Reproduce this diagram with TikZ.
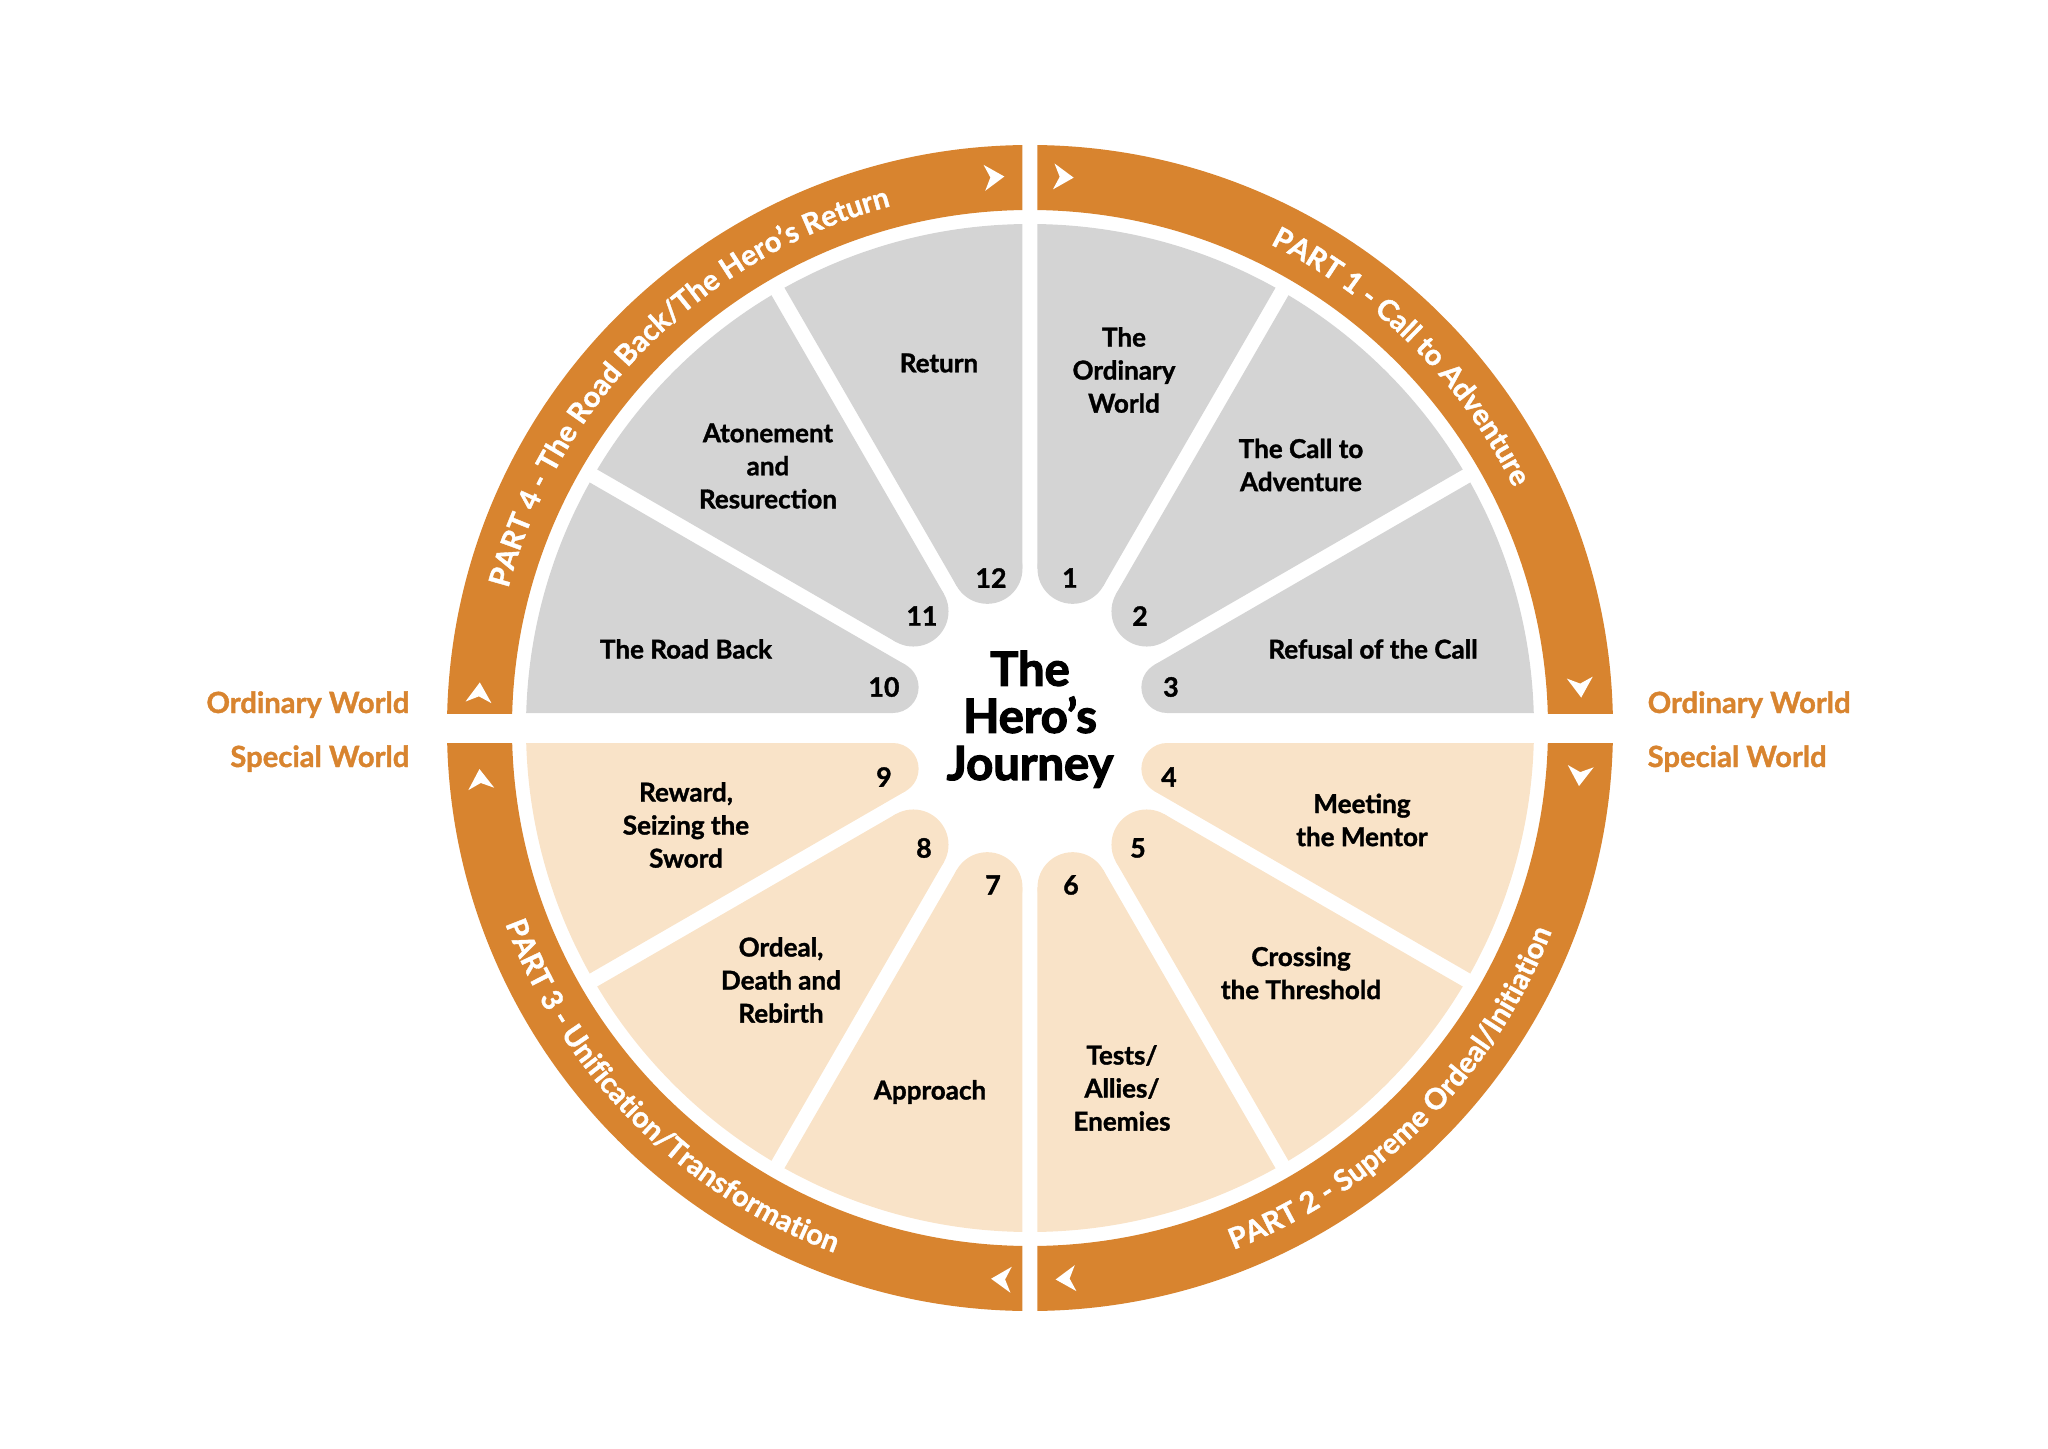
\documentclass[tikz,border=0pt]{standalone}
\usepackage{fontspec}
\setmainfont{Lato}[BoldFeatures={FakeBold=1.3}]
\newfontfamily\titlefont{Lato}[BoldFeatures={FakeBold=2.6}]
\usepackage{tikz}
\usetikzlibrary{decorations.text}
\definecolor{bandorange}{HTML}{D8842F}
\definecolor{oldgray}{HTML}{D4D4D4}
\definecolor{newbeige}{HTML}{F9E3C8}

\begin{document}
\begin{tikzpicture}[x=0.01cm,y=0.01cm,
  stage/.style={font=\bfseries\fontsize{7.4}{9.4}\selectfont,align=center,inner sep=0},
  num/.style={font=\bfseries\fontsize{7.6}{9}\selectfont,inner sep=0},
  world/.style={font=\bfseries\fontsize{8.3}{10}\selectfont,text=bandorange,inner sep=0},
  turnarrow/.pic={\fill[white] (10,0) -- (-10,13) -- (-4,0) -- (-10,-13) -- cycle;},
  parttext/.style={decorate,decoration={text along path,text align=center,text color=white,
    text={|\bfseries\fontsize{8.25}{10}\selectfont|#1}}}]
\useasboundingbox (-1030,-720) rectangle (1018,728);

% orange ring, one quarter at a time
\foreach \sx/\sy in {1/1,1/-1,-1/-1,-1/1} {
  \begin{scope}
    \clip (7.5*\sx,15*\sy) rectangle (700*\sx,700*\sy);
    \fill[bandorange,even odd rule] (0,0) circle[radius=583] circle[radius=518];
  \end{scope}
}

% the twelve stages: start angle / half gaps / cap distance / colour
\foreach \sa/\ga/\gb/\sd/\tone in {0/15/7.5/143/oldgray,30/7.5/7.5/165/oldgray,
    60/7.5/7.5/165/oldgray,90/7.5/7.5/165/oldgray,120/7.5/7.5/165/oldgray,
    150/7.5/15/143/oldgray,180/15/7.5/143/newbeige,210/7.5/7.5/165/newbeige,
    240/7.5/7.5/165/newbeige,270/7.5/7.5/165/newbeige,300/7.5/7.5/165/newbeige,
    330/7.5/15/143/newbeige} {
  \pgfmathsetmacro\cw{(\ga-\gb)/1.9319}
  \pgfmathsetmacro\cr{\sd*0.2588-(\ga+\gb)/2}
  \pgfmathsetmacro\tla{\sd*0.9659-\cw*0.2588}
  \pgfmathsetmacro\tlb{\sd*0.9659+\cw*0.2588}
  \begin{scope}
    \clip (0,0) circle[radius=504];
    \fill[\tone] ([shift={(\sa+90:\ga)}]\sa:\tla) -- ([shift={(\sa+90:\ga)}]\sa:800)
      -- ([shift={(\sa-60:\gb)}]\sa+30:800) -- ([shift={(\sa-60:\gb)}]\sa+30:\tlb) -- cycle;
    \fill[\tone] ([shift={(\sa+105:\cw)}]\sa+15:\sd) circle[radius=\cr];
  \end{scope}
}

% direction marks in the ring
\foreach \ph in {93.7,86.5,4.2,-5,273.7,267,176.3,185.3}
  \pic[rotate=\ph-90] at (\ph:552) {turnarrow};

% ring texts
\path[parttext={PART 1 - Call to Adventure}] (88:540) arc[start angle=88,end angle=2,radius=540];
\path[parttext={PART 4 - The Road Back/The Hero’s Return}] (178:540) arc[start angle=178,end angle=92,radius=540];
\path[parttext={PART 3 - Unification/Transformation}] (182:560) arc[start angle=182,end angle=268,radius=560];
\path[parttext={PART 2 - Supreme Ordeal/Initiation}] (272:560) arc[start angle=272,end angle=358,radius=560];

\node[font=\titlefont\bfseries\fontsize{13.4}{13.4}\selectfont,align=center,inner sep=0,anchor=north] (title) at (0,78) {The\\Hero’s\\Journey};

\node[stage] (s1) at (94,358) {The\\Ordinary\\World};
\node[stage] (s2) at (271,263) {The Call to\\Adventure};
\node[stage] (s3) at (343,79) {Refusal of the Call};
\node[stage] (s4) at (332,-92) {Meeting\\the Mentor};
\node[stage] (s5) at (271,-245) {Crossing\\the Threshold};
\node[stage] (s6) at (92,-360) {Tests/\\Allies/\\Enemies};
\node[stage] (s7) at (-100,-364) {Approach};
\node[stage] (s8) at (-249,-252) {Ordeal,\\Death and\\Rebirth};
\node[stage] (s9) at (-344,-97) {Reward,\\Seizing the\\Sword};
\node[stage] (s10) at (-344,79) {The Road Back};
\node[stage] (s11) at (-262,262) {Atonement\\and\\Resurection};
\node[stage] (s12) at (-91,365) {Return};

\node[num] (n1) at (40,150) {1};
\node[num] (n2) at (110,112) {2};
\node[num] (n3) at (141,41) {3};
\node[num] (n4) at (139,-49) {4};
\node[num] (n5) at (108,-120) {5};
\node[num] (n6) at (41,-157) {6};
\node[num] (n7) at (-37,-157) {7};
\node[num] (n8) at (-106,-120) {8};
\node[num] (n9) at (-146,-49) {9};
\node[num] (n10) at (-146,41) {10};
\node[num] (n11) at (-108,112) {11};
\node[num] (n12) at (-39,150) {12};

\node[world,anchor=base east] (ordl) at (-620,15) {Ordinary World};
\node[world,anchor=base east] (spcl) at (-620,-39) {Special World};
\node[world,anchor=base west] (ordr) at (617,15) {Ordinary World};
\node[world,anchor=base west] (spcr) at (617,-39) {Special World};
\end{tikzpicture}
\end{document}
